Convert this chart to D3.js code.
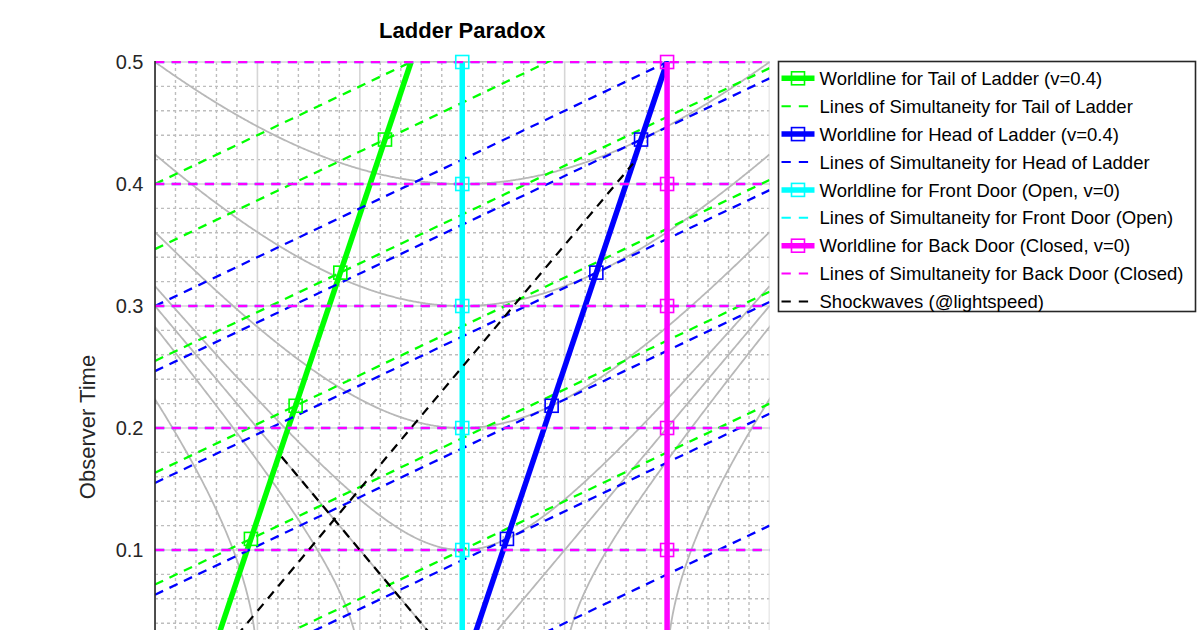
<!DOCTYPE html>
<html>
<head>
<meta charset="utf-8">
<script src="https://cdn.jsdelivr.net/npm/d3@7"></script>
<style>
  html, body { margin: 0; padding: 0; background: #fff; }
  svg { display: block; font-family: "Liberation Sans", Arial, Helvetica, sans-serif; }
</style>
</head>
<body>
<div class="chart"></div>
<script>
// ---- chart values ----
const ladderV = 0.4;
const ladderStartX = [-0.25, 0];          // tail, head position at t = 0
const doorX = [0, 0.2];                   // front door, back door
const properTicks = [0, 0.1, 0.2, 0.3, 0.4];
const doorTicks = [0, 0.1, 0.2, 0.3, 0.4, 0.5];
const tEnd = 0.5;
const hyperTau = [0, 0.1, 0.2, 0.3, 0.4, 0.5];   // t^2 - x^2 = tau^2
const hyperDist = [0.1, 0.2, 0.3];                // x^2 - t^2 = d^2
const shockFromX = [0, -0.25];
const shockFromT = [0, 0];
const shockDir = [-1, 1];
const shockHits = [0, 1];                 // hits tail / head of ladder
const yTickVals = [0.1, 0.2, 0.3, 0.4, 0.5];
const legendNames = ['Worldline for Tail of Ladder (v=0.4)',
                     'Lines of Simultaneity for Tail of Ladder',
                     'Worldline for Head of Ladder (v=0.4)',
                     'Lines of Simultaneity for Head of Ladder',
                     'Worldline for Front Door (Open, v=0)',
                     'Lines of Simultaneity for Front Door (Open)',
                     'Worldline for Back Door (Closed, v=0)',
                     'Lines of Simultaneity for Back Door (Closed)',
                     'Shockwaves (@lightspeed)'];
const legendColors = ['#00ff00', '#00ff00', '#0000ff', '#0000ff', '#00ffff', '#00ffff', '#ff00ff', '#ff00ff', '#000000'];
const legendKinds = ['world', 'dash', 'world', 'dash', 'world', 'dash', 'world', 'dash', 'dash'];

const ladderColors = ['#00ff00', '#0000ff'];
const doorColors = ['#00ffff', '#ff00ff'];

// ---- layout ----
const W = 1200, H = 630;
const plot = {left: 155, right: 769.5, top: 62, bottom: 672};
const gamma = 1 / Math.sqrt(1 - ladderV * ladderV);

const x = d3.scaleLinear().domain([-0.3, 0.3]).range([plot.left, plot.right]);
const y = d3.scaleLinear().domain([0, 0.5]).range([plot.bottom, plot.top]);

const svg = d3.select('.chart')
    .append('svg')
    .attr('width', W)
    .attr('height', H);

svg.append('clipPath')
    .attr('id', 'plotClip')
    .append('rect')
    .attr('x', plot.left)
    .attr('y', plot.top - 1)
    .attr('width', plot.right - plot.left)
    .attr('height', H);

const line = d3.line().x(d => x(d[0])).y(d => y(d[1]));

// ---- grid ----
const grid = svg.append('g').attr('clip-path', 'url(#plotClip)');
const xMinor = d3.range(-15, 16).filter(i => i % 5 !== 0).map(i => i * 0.02);
const xMajor = d3.range(-3, 4).map(i => i * 0.1);
const yMinor = d3.range(-5, 26).filter(i => i % 5 !== 0).map(i => i * 0.02);
const yMajor = d3.range(0, 6).map(i => i * 0.1);

grid.selectAll('.xminor').data(xMinor).enter().append('line')
    .attr('x1', d => x(d)).attr('x2', d => x(d))
    .attr('y1', plot.top).attr('y2', H)
    .attr('stroke', '#bdbdbd').attr('stroke-width', 1.4)
    .attr('stroke-dasharray', '3,3');
grid.selectAll('.yminor').data(yMinor).enter().append('line')
    .attr('y1', d => y(d)).attr('y2', d => y(d))
    .attr('x1', plot.left).attr('x2', plot.right)
    .attr('stroke', '#bdbdbd').attr('stroke-width', 1.4)
    .attr('stroke-dasharray', '3,3');
grid.selectAll('.xmajor').data(xMajor).enter().append('line')
    .attr('x1', d => x(d)).attr('x2', d => x(d))
    .attr('y1', plot.top).attr('y2', H)
    .attr('stroke', '#d6d6d6').attr('stroke-width', 1.6);
grid.selectAll('.ymajor').data(yMajor).enter().append('line')
    .attr('y1', d => y(d)).attr('y2', d => y(d))
    .attr('x1', plot.left).attr('x2', plot.right)
    .attr('stroke', '#d6d6d6').attr('stroke-width', 1.6);

const marks = svg.append('g').attr('clip-path', 'url(#plotClip)');
const markers = svg.append('g').attr('class', 'markers');   // markers are not clipped

// ---- gray invariant hyperbolas about the origin ----
const xs = d3.range(-300, 301).map(i => i / 1000);
const ts = d3.range(0, 501).map(i => i / 1000);
hyperTau.forEach(tau => {
    marks.append('path')
        .attr('d', line(xs.map(v => [v, Math.sqrt(tau * tau + v * v)])))
        .attr('fill', 'none').attr('stroke', '#b8b8b8').attr('stroke-width', 1.8);
});
hyperDist.forEach(dd => {
    [-1, 1].forEach(side => {
        marks.append('path')
            .attr('d', line(ts.map(t => [side * Math.sqrt(dd * dd + t * t), t])))
            .attr('fill', 'none').attr('stroke', '#b8b8b8').attr('stroke-width', 1.8);
    });
});

// simultaneity line through event (x0, t0) for speed v
function simLine(x0, t0, v) {
    return [[-0.3, t0 + v * (-0.3 - x0)], [0.3, t0 + v * (0.3 - x0)]];
}

function addSquares(pts, color) {
    markers.selectAll(null).data(pts.filter(d => d[1] > 0)).enter().append('rect')
        .attr('x', d => x(d[0]) - 6.5).attr('y', d => y(d[1]) - 6.5)
        .attr('width', 13).attr('height', 13)
        .attr('fill', 'none').attr('stroke', color).attr('stroke-width', 1.6);
}

// ---- ladder: tail and head ----
ladderStartX.forEach((x0, i) => {
    const ticks = properTicks.map(tau => [x0 + ladderV * gamma * tau, gamma * tau]);
    const endPt = [x0 + ladderV * tEnd, tEnd];

    marks.append('path')
        .attr('d', line([[x0, 0], endPt]))
        .attr('stroke', ladderColors[i]).attr('stroke-width', 5.5)
        .attr('fill', 'none');
    addSquares(ticks, ladderColors[i]);

    ticks.concat([endPt]).forEach(p => {
        marks.append('path')
            .attr('d', line(simLine(p[0], p[1], ladderV)))
            .attr('stroke', ladderColors[i]).attr('stroke-width', 2.3)
            .attr('stroke-dasharray', '9,7').attr('fill', 'none');
    });
});

// ---- doors ----
doorX.forEach((xd, i) => {
    marks.append('path')
        .attr('d', line([[xd, 0], [xd, tEnd]]))
        .attr('stroke', doorColors[i]).attr('stroke-width', 5.5)
        .attr('fill', 'none');
    addSquares(doorTicks.map(t => [xd, t]), doorColors[i]);

    doorTicks.forEach(t => {
        marks.append('path')
            .attr('d', line(simLine(xd, t, 0)))
            .attr('stroke', doorColors[i]).attr('stroke-width', 2.4)
            .attr('stroke-dasharray', '9.3,7.3').attr('fill', 'none');
    });
});

// ---- shockwaves ----
shockFromX.forEach((xs0, i) => {
    const s = shockDir[i];
    const x0 = ladderStartX[shockHits[i]];
    const tHit = (x0 - xs0 + s * shockFromT[i]) / (s - ladderV);
    const xHit = x0 + ladderV * tHit;
    marks.append('path')
        .attr('d', line([[xs0, shockFromT[i]], [xHit, tHit]]))
        .attr('stroke', '#000').attr('stroke-width', 2.2)
        .attr('stroke-dasharray', '9,7').attr('fill', 'none');
});

markers.raise();

// ---- y axis ----
svg.append('line')
    .attr('x1', plot.left).attr('x2', plot.left)
    .attr('y1', plot.top - 1).attr('y2', H)
    .attr('stroke', '#262626').attr('stroke-width', 1.6);

svg.selectAll('.ytick').data(yTickVals).enter().append('text')
    .attr('x', 143.5)
    .attr('y', d => y(d))
    .attr('dy', '0.36em')
    .attr('text-anchor', 'end')
    .style('font-size', '20px')
    .style('fill', '#262626')
    .text(d => d.toFixed(1));

svg.append('text')
    .attr('transform', 'translate(95, 427) rotate(-90)')
    .attr('text-anchor', 'middle')
    .style('font-size', '22px')
    .style('fill', '#262626')
    .text('Observer Time');

// title
svg.append('text')
    .attr('x', (plot.left + plot.right) / 2)
    .attr('y', 37.5)
    .attr('text-anchor', 'middle')
    .style('font-size', '22px')
    .style('font-weight', 'bold')
    .style('fill', '#000')
    .text('Ladder Paradox');

// ---- legend ----
const legend = svg.append('g').attr('class', 'legend');
legend.append('rect')
    .attr('x', 778.5).attr('y', 61.5)
    .attr('width', 417).attr('height', 250)
    .attr('fill', '#fff').attr('stroke', '#262626').attr('stroke-width', 1.6);

const rows = legend.selectAll('.row')
    .data(legendNames)
    .enter()
    .append('g')
    .attr('class', 'row')
    .attr('transform', (d, i) => `translate(0, ${78.3 + i * 27.9})`);

rows.append('line')
    .attr('x1', 781.5).attr('x2', 814.5)
    .attr('y1', 0).attr('y2', 0)
    .attr('stroke', (d, i) => legendColors[i])
    .attr('stroke-width', (d, i) => legendKinds[i] === 'world' ? 5.5 : 2)
    .attr('stroke-dasharray', (d, i) => legendKinds[i] === 'world' ? null : '9.3,8');

rows.filter((d, i) => legendKinds[i] === 'world')
    .append('rect')
    .attr('x', 798 - 6.5).attr('y', -6.5)
    .attr('width', 13).attr('height', 13)
    .attr('fill', 'none')
    .attr('stroke', d => legendColors[legendNames.indexOf(d)])
    .attr('stroke-width', 1.6);

rows.append('text')
    .attr('x', 819.5)
    .attr('y', 0)
    .attr('dy', '0.36em')
    .style('font-size', '18.5px')
    .style('fill', '#000')
    .text(d => d);
</script>
</body>
</html>
